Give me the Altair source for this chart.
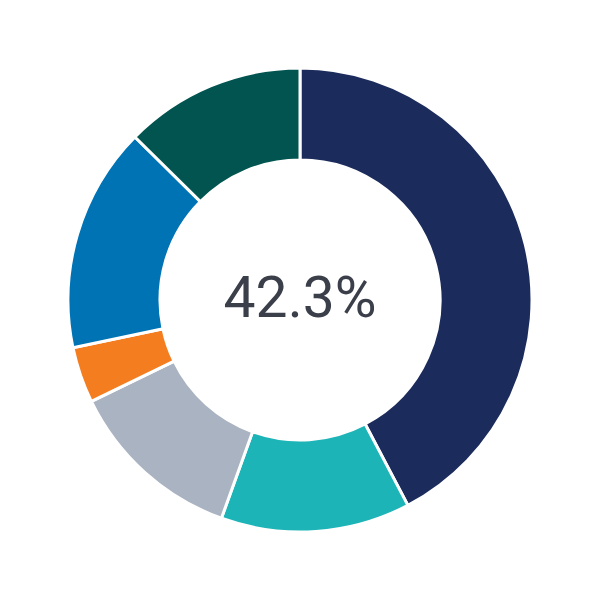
import altair as alt
import pandas as pd

categories = ["A", "B", "C", "D", "E", "F"]
values = [42.3, 13.2, 12.3, 3.9, 15.7, 12.6]
colors = ["#1b2b5b", "#1cb4b7", "#a9b3c1", "#f47d20", "#0073b5", "#01544f"]
center_label = "42.3%"

df = pd.DataFrame({"cat": categories, "value": values, "idx": list(range(len(categories)))})

arcs = alt.Chart(df).mark_arc(innerRadius=140, outerRadius=232, stroke="white", strokeWidth=3).encode(
    theta=alt.Theta("value:Q", stack=True),
    order=alt.Order("idx:Q"),
    color=alt.Color("cat:N", scale=alt.Scale(domain=categories, range=colors), legend=None),
)

text = alt.Chart(pd.DataFrame({"t": [center_label]})).mark_text(
    font="Roboto", fontSize=57, fontWeight="normal", color="#3b3f4a", align="center", baseline="middle"
).encode(text="t:N")

chart = alt.layer(arcs, text).properties(
    width=584, height=584, padding=0,
    autosize=alt.AutoSizeParams(type="fit", contains="padding"),
).configure_view(stroke=None)

chart.save("out.html", embed_options={"renderer": "svg", "actions": False})
